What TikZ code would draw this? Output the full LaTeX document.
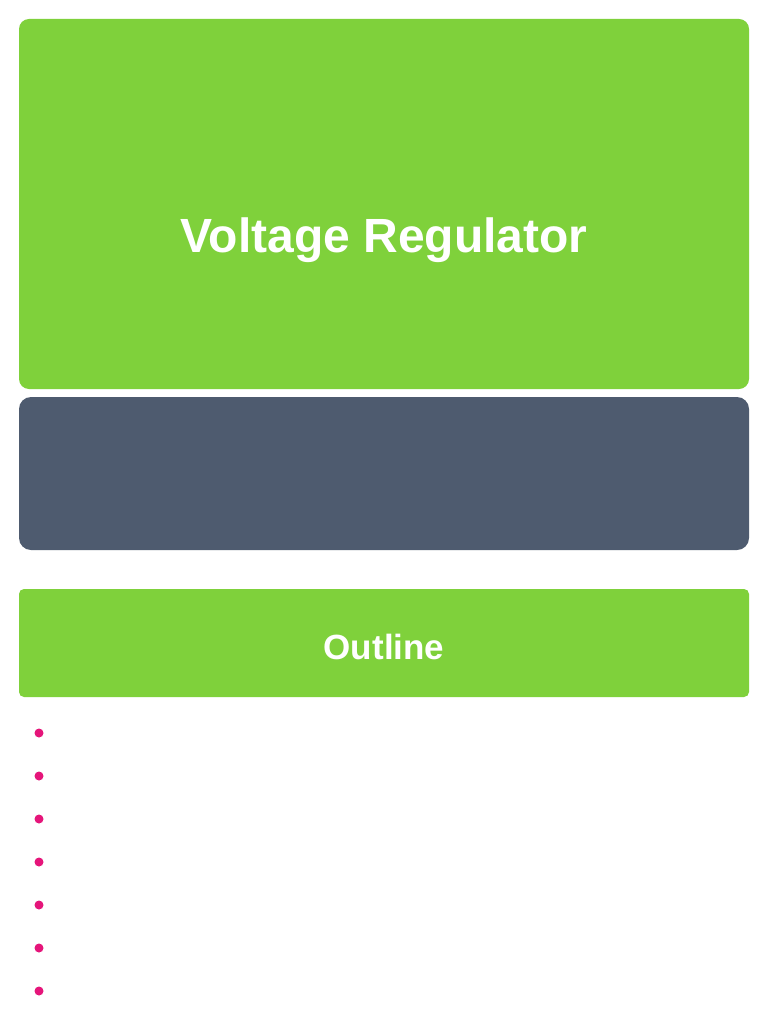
\documentclass[tikz,border=0pt]{standalone}
\usepackage{fontspec}
\setmainfont{Liberation Sans}
\begin{document}
\begin{tikzpicture}[x=1pt,y=-1pt]
\definecolor{grn}{HTML}{7FD13B}
\definecolor{slate}{HTML}{4E5B6F}
\definecolor{mag}{HTML}{E5157A}
\tikzset{bul/.style={circle,fill=mag,inner sep=0pt,minimum size=9pt}}
\useasboundingbox (0,0) rectangle (768,1024);
\fill[white] (0,0) rectangle (768,1024);
\fill[grn,rounded corners=10pt] (19,389) -- (19,19) -- (749,19) -- (749,389) -- cycle;
\fill[slate,rounded corners=12pt] (19,397) -- (19,550) -- (749,550) -- (749,397) -- cycle;
\fill[grn,rounded corners=5pt] (19,697) -- (19,589) -- (749,589) -- (749,697) -- cycle;
\node[text=white,font=\bfseries\fontsize{48}{56}\selectfont] (title) at (384,240) {Voltage Regulator};
\node[text=white,font=\bfseries\fontsize{35}{42}\selectfont] (outline) at (384,647) {Outline};
\foreach \i/\y in {1/733,2/776,3/819,4/862,5/905,6/948,7/991}
  \node[bul] (b\i) at (39,\y) {};
\end{tikzpicture}
\end{document}
